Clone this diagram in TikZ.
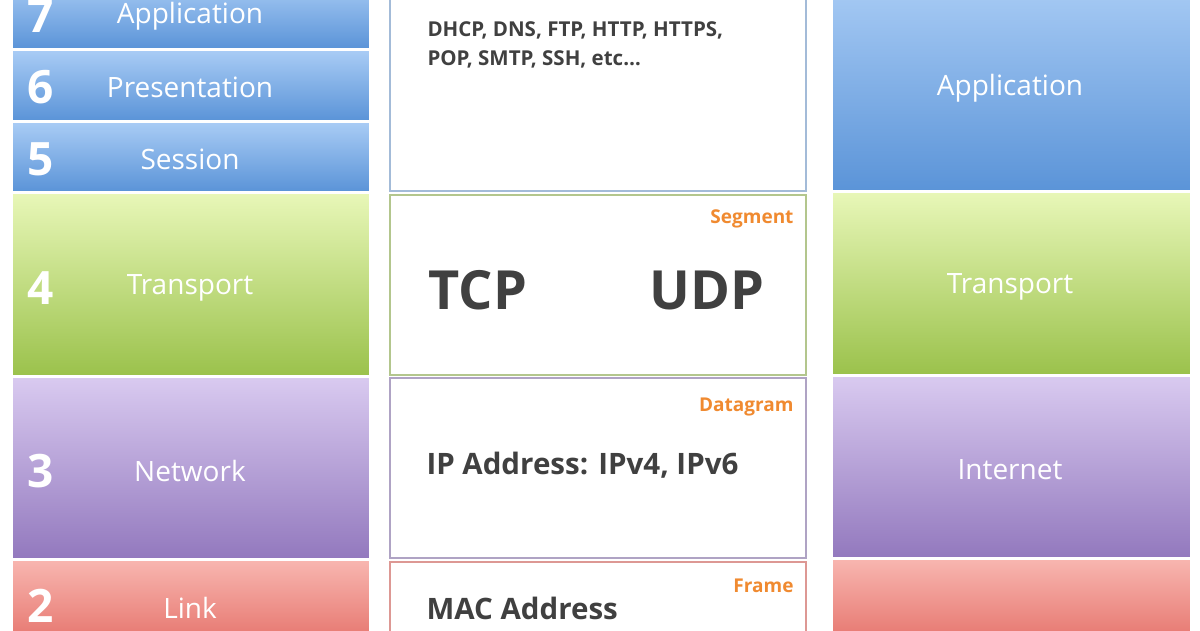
\documentclass[tikz,border=0pt]{standalone}
\usepackage{fontspec}
\setmainfont{Open Sans}
\definecolor{bT}{HTML}{A9CCF5}\definecolor{bB}{HTML}{5B94D8}
\definecolor{gT}{HTML}{E8F7B8}\definecolor{gB}{HTML}{9BC24C}
\definecolor{pT}{HTML}{D9CAF0}\definecolor{pB}{HTML}{9379BE}
\definecolor{rT}{HTML}{F8B6B0}\definecolor{rB}{HTML}{E2675F}
\definecolor{txt}{HTML}{404040}\definecolor{org}{HTML}{F08A30}
\begin{document}
\begin{tikzpicture}[x=1pt,y=-1pt,
 lay/.style={draw=white,line width=1pt},
 lbl/.style={text=white,font=\fontsize{28}{30}\selectfont},
 num/.style={text=white,font=\bfseries\fontsize{46}{48}\selectfont},
 mid/.style={fill=white,line width=1.5pt},
 tag/.style={text=org,font=\bfseries\fontsize{19}{22}\selectfont,anchor=north east}]
\useasboundingbox (0,0) rectangle (1200,630);
% left column
\shade[top color=bT,bottom color=bB,lay] (12,-20) rectangle (369,48);
\shade[top color=bT,bottom color=bB,lay] (12,50) rectangle (369,120);
\shade[top color=bT,bottom color=bB,lay] (12,122) rectangle (369,191);
\shade[top color=gT,bottom color=gB,lay] (12,193) rectangle (369,375);
\shade[top color=pT,bottom color=pB,lay] (12,377) rectangle (369,558);
\shade[top color=rT,bottom color=rB,lay] (12,560) rectangle (369,660);
\node[num] (n7) at (41,16) {7}; \node[lbl] (l7) at (190,16) {Application};
\node[num] (n6) at (41,87) {6}; \node[lbl] (l6) at (190,87) {Presentation};
\node[num] (n5) at (41,159) {5}; \node[lbl] (l5) at (190,159) {Session};
\node[num] (n4) at (41,288) {4}; \node[lbl] (l4) at (190,288) {Transport};
\node[num] (n3) at (41,471) {3}; \node[lbl] (l3) at (190,471) {Network};
\node[num] (n2) at (41,606) {2}; \node[lbl] (l2) at (190,608) {Link};
% middle column
\draw[mid,draw=bB!70!gray!60] (390,-20) rectangle (806,191);
\draw[mid,draw=gB!70!gray!70] (390,195) rectangle (806,375);
\draw[mid,draw=pB!70!gray!70] (390,378) rectangle (806,558);
\draw[mid,draw=rB!80!gray!70] (390,562) rectangle (806,660);
\node[anchor=north west,align=left,text=txt,font=\bfseries\fontsize{20.5}{29}\selectfont] (app) at (424,18) {DHCP, DNS, FTP, HTTP, HTTPS,\\POP, SMTP, SSH, etc\ldots};
\node[tag] (seg) at (797,206) {Segment};
\node[text=txt,font=\bfseries\fontsize{54}{58}\selectfont] (tcp) at (478,290) {TCP};
\node[text=txt,font=\bfseries\fontsize{54}{58}\selectfont] (udp) at (707,290) {UDP};
\node[tag] (dg) at (797,394) {Datagram};
\node[anchor=west,text=txt,font=\bfseries\fontsize{29.5}{32}\selectfont] (ip) at (423,465) {IP Address: IPv4, IPv6};
\node[tag] (fr) at (797,575) {Frame};
\node[anchor=west,text=txt,font=\bfseries\fontsize{29.5}{32}\selectfont] (mac) at (423,608) {MAC Address};
% right column
\shade[top color=bT,bottom color=bB,lay] (832,-20) rectangle (1190,190);
\shade[top color=gT,bottom color=gB,lay] (832,192) rectangle (1190,374);
\shade[top color=pT,bottom color=pB,lay] (832,376) rectangle (1190,557);
\shade[top color=rT,bottom color=rB,lay] (832,559) rectangle (1190,660);
\node[lbl] (ra) at (1010,88) {Application};
\node[lbl] (rt) at (1010,287) {Transport};
\node[lbl] (ri) at (1010,470) {Internet};
\end{tikzpicture}
\end{document}
